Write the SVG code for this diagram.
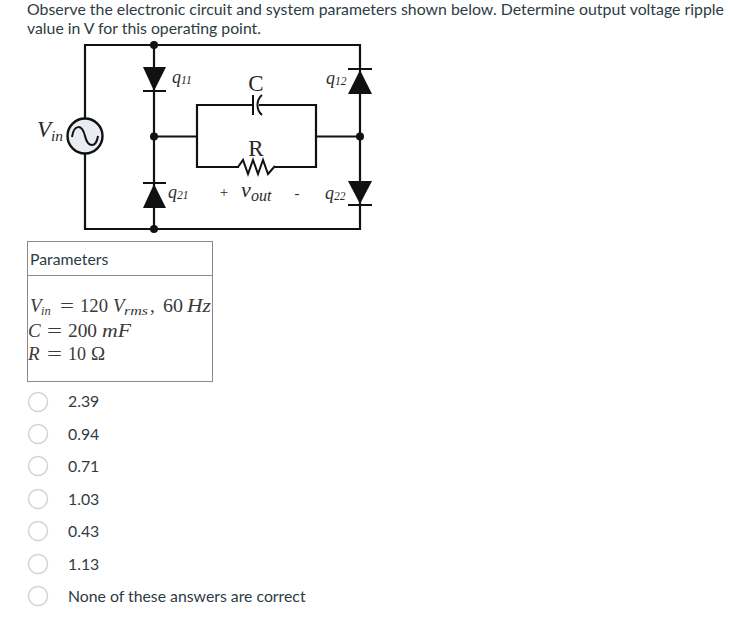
<svg xmlns="http://www.w3.org/2000/svg" width="732" height="619" viewBox="0 0 732 619">
<style>
.q{font-family:Lato,"Liberation Sans",sans-serif;font-size:15.85px;fill:#2d3b45}
.o{font-family:Lato,"Liberation Sans",sans-serif;font-size:15.8px;fill:#2d3b45}
.w{fill:none;stroke:#111;stroke-width:2.2}
.s{font-family:"Liberation Serif",serif;fill:#2a2a2a}
.i{font-style:italic}
.m{font-family:"Liberation Serif",serif;font-size:19px;fill:#3a3a3a}
.n{font-size:12.5px}
.r{fill:#fff;stroke:#d4d4d4;stroke-width:1.5}
.b{fill:#111}
.k{fill:none;stroke:#111;stroke-width:2}
</style>
<rect width="732" height="619" fill="#fff"/>
<text class="q" x="27" y="15" textLength="697" lengthAdjust="spacingAndGlyphs">Observe the electronic circuit and system parameters shown below. Determine output voltage ripple</text>
<text class="q" x="27" y="34" textLength="234" lengthAdjust="spacingAndGlyphs">value in V for this operating point.</text>

<g id="connectors">
<path class="w" d="M85 119V45H360V229H85V153"/>
<path class="w" d="M154 45V229"/>
<path class="w" d="M154 136.500H197M316 136.500H360"/>
<path class="w" d="M253 105H197V167H239M275 167H316V105H259"/>
</g>
<g id="junctions">
<circle class="b" cx="154" cy="45" r="4"/>
<circle class="b" cx="154" cy="136.500" r="4"/>
<circle class="b" cx="154" cy="229" r="4"/>
<circle class="b" cx="360" cy="136.500" r="4"/>
</g>
<g id="vin">
<circle cx="85" cy="136" r="17.500" fill="#e9edf3" stroke="#111" stroke-width="2.400"/>
<path class="k" d="M72 137C74 124 82 124 85 136C88 148 96 148 98 136"/>
<text class="s i" font-size="23" x="37" y="137">V</text><text class="s i" font-size="15.500" x="51" y="141">in</text>
</g>
<g id="q11">
<path class="b" d="M143 67H166L154 91Z"/><path class="k" d="M143 91H166"/>
<text class="s i" font-size="18" x="172" y="83">q</text><text class="s i" font-size="11.500" x="181" y="84">11</text>
</g>
<g id="q21">
<path class="b" d="M143 208H166L154 184Z"/><path class="k" d="M143 183H166"/>
<text class="s i" font-size="18" x="168" y="198">q</text><text class="s i" font-size="11.500" x="177" y="199">21</text>
</g>
<g id="q12">
<path class="b" d="M348 94H372L360 70Z"/><path class="k" d="M348 69H372"/>
<text class="s i" font-size="18" x="326" y="84">q</text><text class="s i" font-size="11.500" x="335" y="85">12</text>
</g>
<g id="q22">
<path class="b" d="M348 181H372L360 204Z"/><path class="k" d="M348 205H372"/>
<text class="s i" font-size="18" x="325" y="199">q</text><text class="s i" font-size="11.500" x="334" y="200">22</text>
</g>
<g id="capacitor">
<path class="k" d="M253 95V115"/><path class="k" d="M262 95C256 100 256 110 262 115"/>
<text class="s" font-size="23" x="256" y="91" text-anchor="middle">C</text>
</g>
<g id="resistor">
<path class="k" d="M238 167L243 160L248 174L253 160L258 174L263 160L268 174L275 166"/>
<text class="s" font-size="23" x="256" y="156" text-anchor="middle">R</text>
</g>
<g id="vout">
<text class="s" font-size="15" x="224" y="197" text-anchor="middle">+</text>
<text class="s i" font-size="22" x="241" y="197">v</text><text class="s i" font-size="16" x="251" y="201">out</text>
<text class="s" font-size="15" x="297" y="198" text-anchor="middle">-</text>
</g>

<g id="parameters">
<rect x="27.500" y="241.500" width="185" height="140" fill="none" stroke="#8a8a8a"/>
<path d="M27 275.500H213" stroke="#8a8a8a"/>
<text class="o" x="30" y="265">Parameters</text>
<text class="m i" x="30" y="312">V</text><text class="m i n" x="41" y="315">in</text>
<text class="m" x="60" y="312" textLength="14" lengthAdjust="spacingAndGlyphs">=</text><text class="m" x="80" y="312" textLength="28" lengthAdjust="spacingAndGlyphs">120</text><text class="m i" x="113" y="312">V</text><text class="m i n" x="124" y="315" textLength="24" lengthAdjust="spacingAndGlyphs">rms</text><text class="m" x="150" y="312">,</text>
<text class="m" x="163" y="312" textLength="20" lengthAdjust="spacingAndGlyphs">60</text><text class="m i" x="187" y="312" textLength="24" lengthAdjust="spacingAndGlyphs">Hz</text>
<text class="m i" x="28" y="337">C</text><text class="m" x="47" y="337" textLength="15" lengthAdjust="spacingAndGlyphs">=</text><text class="m" x="68" y="337" textLength="29" lengthAdjust="spacingAndGlyphs">200</text><text class="m i" x="102" y="337" textLength="29" lengthAdjust="spacingAndGlyphs">mF</text>
<text class="m i" x="28" y="360">R</text><text class="m" x="47" y="360" textLength="15" lengthAdjust="spacingAndGlyphs">=</text><text class="m" x="68" y="360" textLength="18" lengthAdjust="spacingAndGlyphs">10</text><text class="m" x="91" y="360">Ω</text>
</g>

<g id="options">
<circle class="r" cx="38" cy="402" r="9.500"/><text class="o" x="68" y="407">2.39</text>
<circle class="r" cx="38" cy="434" r="9.500"/><text class="o" x="68" y="440">0.94</text>
<circle class="r" cx="38" cy="466" r="9.500"/><text class="o" x="68" y="472">0.71</text>
<circle class="r" cx="38" cy="499" r="9.500"/><text class="o" x="68" y="505">1.03</text>
<circle class="r" cx="38" cy="531" r="9.500"/><text class="o" x="68" y="537">0.43</text>
<circle class="r" cx="38" cy="564" r="9.500"/><text class="o" x="68" y="570">1.13</text>
<circle class="r" cx="38" cy="596" r="9.500"/><text class="o" x="68" y="602">None of these answers are correct</text>
</g>
</svg>
